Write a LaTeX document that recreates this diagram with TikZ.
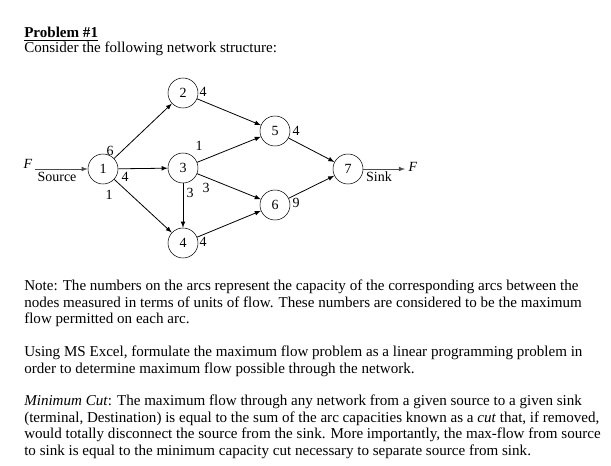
\documentclass[tikz,border=0pt]{standalone}
\usepackage{fontspec}
\setmainfont{Liberation Serif}
\begin{document}
\begin{tikzpicture}[x=0.75pt,y=-0.75pt,
  nd/.style={circle,draw,minimum size=22.5pt,inner sep=0pt,font=\fontsize{10.5}{11}\selectfont},
  lb/.style={font=\fontsize{10.5}{11}\selectfont,inner sep=0pt},
  tx/.style={anchor=base west,inner sep=0pt,font=\fontsize{11.3}{12}\selectfont},
  ar/.style={->,>=latex,line width=0.6pt}]
\useasboundingbox (0,0) rectangle (611,466);
\node[tx] (t0) at (24,38) {\textbf{\underline{Problem \#1}}};
\node[tx] (t1) at (24,53) {Consider the following network structure:};
\node[nd] (n1) at (103,169) {1};
\node[nd] (n2) at (183,93) {2};
\node[nd] (n3) at (183,168) {3};
\node[nd] (n4) at (183,243) {4};
\node[nd] (n5) at (275,131) {5};
\node[nd] (n6) at (275,205) {6};
\node[nd] (n7) at (348,169) {7};
\coordinate (s0) at (35,169);
\coordinate (s1) at (405,169);
\node[lb,font=\fontsize{10.5}{11}\selectfont\itshape] (fl) at (28,164) {F};
\node[lb,font=\fontsize{10.5}{11}\selectfont\itshape] (fr) at (413,167) {F};
\node[lb] (src) at (57,177) {Source};
\node[lb] (snk) at (379,177) {Sink};
\draw[ar,gray!60!black] (s0) -- (n1);
\draw[ar,gray!60!black] (n7) -- (s1);
\draw[ar] (n1) -- (n2);
\draw[ar] (n1) -- (n3);
\draw[ar] (n1) -- (n4);
\draw[ar] (n2) -- (n5);
\draw[ar] (n3) -- (n5);
\draw[ar] (n3) -- (n6);
\draw[ar] (n3) -- (n4);
\draw[ar] (n4) -- (n6);
\draw[ar] (n5) -- (n7);
\draw[ar] (n6) -- (n7);
\node[lb] (l12) at (110,151) {6};
\node[lb] (l13) at (125,177) {4};
\node[lb] (l14) at (109,195) {1};
\node[lb] (l35) at (199,146) {1};
\node[lb] (l34) at (190,193) {3};
\node[lb] (l36) at (206,188) {3};
\node[lb] (c2) at (203,92) {4};
\node[lb] (c5) at (296,131) {4};
\node[lb] (c6) at (296,203) {9};
\node[lb] (c4) at (203,242) {4};
\node[tx] (a1) at (24,291) {Note: The numbers on the arcs represent the capacity of the corresponding arcs between the};
\node[tx] (a2) at (24,307.5) {nodes measured in terms of units of flow. These numbers are considered to be the maximum};
\node[tx] (a3) at (24,324) {flow permitted on each arc.};
\node[tx] (b1) at (24,357) {Using MS Excel, formulate the maximum flow problem as a linear programming problem in};
\node[tx] (b2) at (24,373.5) {order to determine maximum flow possible through the network.};
\node[tx] (c1) at (24,406) {\textit{Minimum Cut}: The maximum flow through any network from a given source to a given sink};
\node[tx] (cc2) at (24,422.5) {(terminal, Destination) is equal to the sum of the arc capacities known as a \textit{cut} that, if removed,};
\node[tx] (cc3) at (24,439) {would totally disconnect the source from the sink. More importantly, the max-flow from source};
\node[tx] (cc4) at (24,455.5) {to sink is equal to the minimum capacity cut necessary to separate source from sink.};
\end{tikzpicture}
\end{document}
